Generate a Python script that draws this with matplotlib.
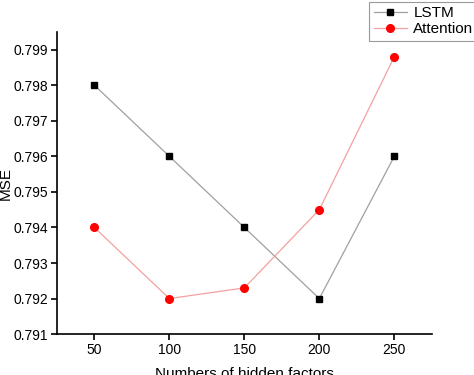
import matplotlib
matplotlib.use('Agg')
import matplotlib.pyplot as plt

plt.rcParams['font.family'] = ['Liberation Sans', 'DejaVu Sans']

# Données
facteurs = [50, 100, 150, 200, 250]
mse_lstm = [0.798, 0.796, 0.794, 0.792, 0.796]
mse_attention = [0.794, 0.792, 0.7923, 0.7945, 0.7988]

fig = plt.figure(figsize=(4.74, 3.75), dpi=100)
ax = fig.add_axes([0.120, 0.109, 0.791, 0.806])

ax.plot(facteurs, mse_lstm, color='#a0a0a0', linewidth=0.9,
        marker='s', markersize=4.5, markerfacecolor='black',
        markeredgecolor='black', label='LSTM')
ax.plot(facteurs, mse_attention, color='#f4a0a0', linewidth=0.9,
        marker='o', markersize=5.5, markerfacecolor='#ff0000',
        markeredgecolor='#ff0000', label='Attention')

ax.set_xlim(25, 275)
ax.set_ylim(0.791, 0.7995)
ax.set_xticks(facteurs)
ax.set_yticks([0.791, 0.792, 0.793, 0.794, 0.795, 0.796, 0.797, 0.798, 0.799])
ax.set_yticklabels(['%.3f' % v for v in ax.get_yticks()])

ax.spines['top'].set_visible(False)
ax.spines['right'].set_visible(False)
ax.spines['left'].set_linewidth(1.2)
ax.spines['bottom'].set_linewidth(1.2)
ax.tick_params(direction='out', length=4, width=1.2, labelsize=10, pad=2.5)

ax.set_xlabel('Numbers of hidden factors', fontsize=11, labelpad=7)
ax.set_ylabel('MSE', fontsize=11)
ax.yaxis.set_label_coords(-0.117, 0.5)

leg = fig.legend(loc='lower left', bbox_to_anchor=(369 / 474, 1 - 41 / 375),
                 fontsize=11, frameon=True, fancybox=False, edgecolor='#808080',
                 borderpad=0.3, labelspacing=0.15, handlelength=2.2,
                 handletextpad=0.4, borderaxespad=0)
leg.get_frame().set_linewidth(0.8)

fig.savefig('out.png', dpi=100)
